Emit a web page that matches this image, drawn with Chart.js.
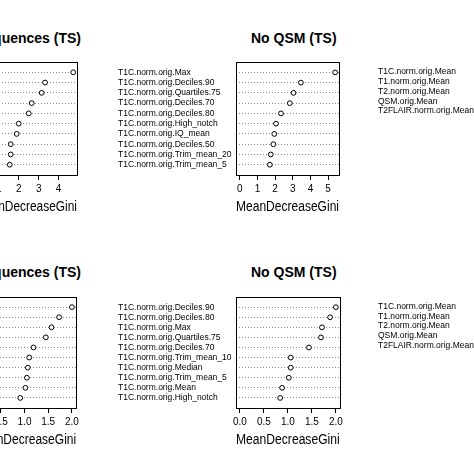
<!DOCTYPE html>
<html>
<head>
<meta charset="utf-8">
<script src="https://cdn.jsdelivr.net/npm/chart.js@4"></script>
<style>
  html, body { margin: 0; width: 474px; height: 474px; overflow: hidden; background: #fff; position: relative; }
  canvas { position: absolute; }
  .title { position: absolute; font: bold 14px "Liberation Sans", Arial, sans-serif; color: #000; white-space: nowrap; }
</style>
</head>
<body>
<div class="title" style="right:393px; top:30px;">All Sequences (TS)</div>
<div class="title" style="left:251px; top:30px;">No QSM (TS)</div>
<div class="title" style="right:393px; top:264px;">All Sequences (TS)</div>
<div class="title" style="left:251px; top:264px;">No QSM (TS)</div>

<canvas id="p1"></canvas>
<canvas id="p2"></canvas>
<canvas id="p3"></canvas>
<canvas id="p4"></canvas>
<canvas id="p5"></canvas>
<canvas id="p6"></canvas>

<script>
// Top row, all sequences (labels are cut off at the left edge)
const allSeqTop = [4.73, 3.32, 3.15, 2.65, 2.5, 2.0, 1.9, 1.6, 1.6, 1.55];
// Top row, no QSM
const noQsmTopLabels = ['T1C.norm.orig.Max', 'T1C.norm.orig.Deciles.90', 'T1C.norm.orig.Quartiles.75',
  'T1C.norm.orig.Deciles.70', 'T1C.norm.orig.Deciles.80', 'T1C.norm.orig.High_notch',
  'T1C.norm.orig.IQ_mean', 'T1C.norm.orig.Deciles.50', 'T1C.norm.orig.Trim_mean_20', 'T1C.norm.orig.Trim_mean_5'];
const noQsmTop = [5.4, 3.46, 3.04, 2.83, 2.33, 2.05, 1.95, 1.9, 1.75, 1.7];
// Bottom row, all sequences
const allSeqBottom = [2.0, 1.73, 1.57, 1.45, 1.19, 1.1, 1.07, 1.05, 1.02, 0.91];
// Bottom row, no QSM
const noQsmBottomLabels = ['T1C.norm.orig.Deciles.90', 'T1C.norm.orig.Deciles.80', 'T1C.norm.orig.Max',
  'T1C.norm.orig.Quartiles.75', 'T1C.norm.orig.Deciles.70', 'T1C.norm.orig.Trim_mean_10',
  'T1C.norm.orig.Median', 'T1C.norm.orig.Trim_mean_5', 'T1C.norm.orig.Mean', 'T1C.norm.orig.High_notch'];
const noQsmBottom = [2.0, 1.88, 1.71, 1.69, 1.44, 1.06, 1.06, 1.02, 0.88, 0.84];
// Next panel (cut off at the right edge), only its labels show
const nextPanelLabels = ['T1C.norm.orig.Mean', 'T1.norm.orig.Mean', 'T2.norm.orig.Mean',
  'QSM.orig.Mean', 'T2FLAIR.norm.orig.Mean', '', '', '', '', ''];

const FONT = '"Liberation Sans", Arial, sans-serif';
const LABEL_SIZE = 8.5;

const boxPlugin = {
  id: 'box',
  afterDraw(chart) {
    const a = chart.chartArea, c = chart.ctx;
    c.save();
    c.strokeStyle = '#000';
    c.lineWidth = 1;
    c.strokeRect(Math.round(a.left) + 0.5, Math.round(a.top) + 0.5, Math.round(a.width), Math.round(a.height));
    c.restore();
  }
};

function place(id, left, top, width, height) {
  const el = document.getElementById(id);
  el.style.left = left + 'px';
  el.style.top = top + 'px';
  el.style.width = width + 'px';
  el.style.height = height + 'px';
  return el;
}

// plot box given in page px, yAxisW = room for the labels
function dotPanel(id, values, labels, opt) {
  const yAxisW = opt.yAxisW, xAxisH = 41;
  const left = opt.plotLeft - yAxisW;
  const width = opt.plotRight - opt.plotLeft + yAxisW + 3;
  const el = place(id, left, opt.plotTop - 1, width, 1 + opt.plotH + xAxisH);
  const pts = values.map((v, i) => ({ x: v, y: i + 1 }));
  return new Chart(el, {
    type: 'scatter',
    data: { datasets: [{
      data: pts,
      pointStyle: 'circle',
      pointRadius: 2.4,
      borderColor: '#000',
      backgroundColor: '#fff',
      borderWidth: 1
    }] },
    options: {
      responsive: false,
      animation: false,
      layout: { padding: { top: 1, right: 3, left: 0, bottom: 0 } },
      plugins: { legend: { display: false }, tooltip: { enabled: false } },
      scales: {
        x: {
          min: opt.xMin, max: opt.xMax,
          afterFit: s => { s.height = xAxisH; },
          afterBuildTicks: s => { s.ticks = opt.xTicks.map(v => ({ value: v })); },
          border: { display: false },
          grid: { drawOnChartArea: false, drawTicks: true, tickLength: 5, color: '#000' },
          ticks: {
            color: '#000', font: { family: FONT, size: 10 }, padding: 3, maxRotation: 0, autoSkip: false,
            callback: v => opt.fmt(v)
          },
          title: { display: true, text: 'MeanDecreaseGini', color: '#000', font: { family: FONT, size: 14 }, padding: { top: 4, bottom: 0 } }
        },
        y: {
          reverse: true, min: 0, max: 11,
          afterFit: s => { s.width = yAxisW; },
          afterBuildTicks: s => { s.ticks = [1,2,3,4,5,6,7,8,9,10].map(v => ({ value: v })); },
          border: { display: false, dash: [1, 2] },
          grid: { drawTicks: false, color: '#8a8a8a', lineWidth: 1 },
          ticks: {
            display: !!labels, crossAlign: 'far', padding: 0, autoSkip: false,
            color: '#000', font: { family: FONT, size: LABEL_SIZE },
            callback: v => (labels ? labels[v - 1] : '')
          }
        }
      }
    },
    plugins: [boxPlugin]
  });
}

function labelPanel(id, labels, top, plotH) {
  const el = place(id, 378, top - 1, 250, 1 + plotH);
  return new Chart(el, {
    type: 'scatter',
    data: { datasets: [] },
    options: {
      responsive: false,
      animation: false,
      layout: { padding: { top: 1 } },
      plugins: { legend: { display: false }, tooltip: { enabled: false } },
      scales: {
        x: { display: false, min: 0, max: 1 },
        y: {
          reverse: true, min: 0, max: 11,
          afterFit: s => { s.width = 160; },
          afterBuildTicks: s => { s.ticks = [1,2,3,4,5,6,7,8,9,10].map(v => ({ value: v })); },
          border: { display: false },
          grid: { display: false },
          ticks: { crossAlign: 'far', padding: 0, autoSkip: false, color: '#000', font: { family: FONT, size: LABEL_SIZE },
            callback: v => labels[v - 1] }
        }
      }
    }
  });
}

const intFmt = v => String(v);
const decFmt = v => v.toFixed(1);

dotPanel('p1', allSeqTop, null, { plotLeft: -27, plotRight: 79, plotTop: 58, plotH: 117, yAxisW: 3,
  xMin: -0.19, xMax: 4.92, xTicks: [0, 1, 2, 3, 4], fmt: intFmt });
dotPanel('p2', noQsmTop, noQsmTopLabels, { plotLeft: 236, plotRight: 341, plotTop: 58, plotH: 117, yAxisW: 118,
  xMin: -0.22, xMax: 5.62, xTicks: [0, 1, 2, 3, 4, 5], fmt: intFmt });
labelPanel('p3', nextPanelLabels, 58, 117);

dotPanel('p4', allSeqBottom, null, { plotLeft: -30, plotRight: 79, plotTop: 293, plotH: 115, yAxisW: 3,
  xMin: -0.08, xMax: 2.09, xTicks: [0, 0.5, 1, 1.5, 2], fmt: decFmt });
dotPanel('p5', noQsmBottom, noQsmBottomLabels, { plotLeft: 236, plotRight: 343, plotTop: 293, plotH: 115, yAxisW: 118,
  xMin: -0.08, xMax: 2.08, xTicks: [0, 0.5, 1, 1.5, 2], fmt: decFmt });
labelPanel('p6', nextPanelLabels, 293, 115);
</script>
</body>
</html>
